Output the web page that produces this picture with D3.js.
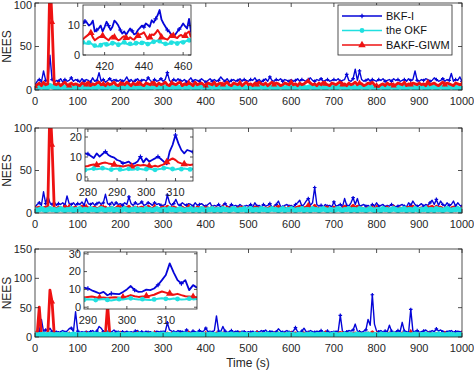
<!DOCTYPE html>
<html lang="en">
<head>
<meta charset="UTF-8">
<title>NEES comparison</title>
<script src="https://d3js.org/d3.v7.min.js"></script>
<style>
  body { margin: 0; background: #fff; }
  svg { display: block; font-family: "Liberation Sans", Arial, sans-serif; }
  .lbl { font-size: 11px; fill: #262626; }
</style>
</head>
<body>
<div id="chart"></div>
<script>
// main traces are stored every STEP seconds, t = 0..1000
const STEP = 5;
const xTicks = [0, 100, 200, 300, 400, 500, 600, 700, 800, 900, 1000];
const seriesNames = ["BKF-I", "the OKF", "BAKF-GIWM"];

// ---- panel 1 ----
const bkf1 = [
  6, 10, 12, 9, 22, 11, 10, 40, 12, 9, 11, 10, 13, 9, 12, 10, 11, 14, 10, 12,
  11, 9, 13, 10, 12, 11, 9, 14, 10, 11, 20, 10, 12, 9, 11, 13, 10, 12, 11, 10,
  12, 10, 11, 15, 10, 12, 9, 11, 13, 10, 11, 12, 10, 14, 11, 9, 12, 10, 11, 13,
  10, 12, 20, 11, 9, 12, 10, 13, 11, 10, 12, 9, 11, 14, 10, 12, 11, 10, 13, 11,
  9, 11, 13, 10, 12, 10, 11, 15, 12, 10, 13, 9, 11, 12, 10, 11, 13, 10, 12, 11,
  10, 12, 11, 14, 10, 12, 9, 11, 13, 10, 15, 11, 10, 12, 11, 13, 10, 12, 11, 10,
  12, 10, 11, 13, 10, 12, 11, 10, 12, 14, 11, 10, 12, 11, 13, 10, 11, 12, 10, 11,
  12, 11, 13, 10, 11, 12, 18, 11, 10, 13, 24, 11, 22, 12, 10, 11, 13, 10, 12, 11,
  10, 12, 11, 13, 10, 11, 12, 10, 13, 11, 12, 10, 11, 12, 10, 13, 11, 12, 22, 11,
  10, 12, 11, 13, 12, 10, 11, 14, 12, 10, 11, 13, 10, 12, 11, 19, 10, 12, 11, 15,
  10
];
const okf1 = [
  3, 2, 3, 4, 3, 2, 3, 5, 4, 3, 2, 3, 3, 4, 2, 3, 3, 2, 4, 3,
  2, 3, 4, 3, 2, 3, 3, 4, 2, 3, 4, 3, 2, 3, 3, 4, 3, 2, 3, 4,
  3, 2, 3, 4, 3, 3, 2, 4, 3, 2, 3, 3, 4, 2, 3, 3, 4, 3, 2, 3,
  4, 3, 2, 3, 3, 4, 2, 3, 3, 4, 3, 2, 3, 4, 3, 3, 2, 3, 4, 3,
  2, 3, 3, 4, 3, 2, 3, 4, 3, 3, 2, 3, 4, 3, 2, 3, 3, 4, 3, 2,
  3, 4, 3, 2, 3, 3, 4, 3, 2, 3, 4, 3, 3, 2, 3, 4, 3, 2, 3, 3,
  4, 3, 2, 3, 4, 3, 3, 2, 3, 4, 3, 2, 3, 3, 4, 3, 2, 3, 4, 3,
  3, 2, 3, 4, 3, 3, 2, 3, 4, 3, 2, 3, 3, 4, 3, 2, 3, 4, 3, 3,
  2, 3, 4, 3, 2, 3, 3, 4, 3, 2, 3, 4, 3, 3, 2, 3, 4, 3, 2, 3,
  3, 4, 3, 2, 3, 3, 4, 3, 2, 3, 4, 3, 3, 2, 3, 4, 3, 3, 2, 3,
  3
];
const bakf1 = [
  4, 6, 8, 5, 9, 6, 7, 130, 78, 7, 6, 8, 5, 7, 9, 6, 5, 8, 6, 7,
  6, 5, 8, 7, 6, 9, 5, 7, 6, 8, 9, 6, 7, 5, 8, 6, 7, 9, 6, 5,
  7, 8, 6, 9, 7, 5, 8, 6, 7, 9, 6, 5, 8, 7, 6, 9, 7, 5, 8, 6,
  7, 9, 6, 5, 8, 7, 6, 8, 9, 5, 7, 6, 8, 7, 5, 9, 6, 7, 8, 6,
  5, 8, 7, 6, 9, 5, 7, 8, 6, 7, 9, 6, 5, 8, 7, 6, 8, 5, 7, 9,
  6, 7, 5, 8, 6, 9, 7, 6, 8, 5, 7, 9, 6, 8, 7, 5, 6, 8, 7, 6,
  9, 6, 7, 5, 8, 6, 7, 9, 10, 8, 6, 7, 5, 8, 6, 9, 7, 6, 5, 8,
  7, 6, 8, 9, 6, 7, 5, 8, 6, 7, 9, 6, 8, 7, 5, 6, 8, 7, 9, 6,
  5, 4, 6, 7, 5, 8, 6, 7, 5, 6, 8, 7, 6, 9, 5, 7, 6, 8, 7, 6,
  8, 6, 7, 5, 9, 6, 7, 8, 6, 5, 7, 9, 6, 8, 7, 6, 5, 8, 7, 6,
  7
];

// ---- panel 2 ----
const bkf2 = [
  7, 10, 12, 9, 25, 11, 20, 12, 10, 13, 9, 11, 10, 12, 9, 20, 11, 10, 12, 9,
  11, 10, 13, 9, 17, 11, 10, 12, 9, 11, 13, 10, 12, 22, 11, 10, 13, 9, 12, 10,
  11, 9, 12, 10, 19, 11, 9, 12, 10, 11, 13, 9, 10, 12, 11, 9, 12, 10, 11, 9,
  9, 10, 21, 12, 9, 11, 16, 10, 9, 12, 10, 9, 11, 10, 8, 12, 9, 10, 11, 9,
  8, 10, 12, 7, 9, 8, 10, 7, 9, 11, 8, 7, 10, 8, 9, 7, 10, 8, 7, 9,
  8, 10, 7, 12, 8, 9, 7, 10, 8, 9, 11, 7, 8, 10, 14, 8, 7, 9, 10, 8,
  9, 7, 10, 12, 15, 8, 10, 14, 17, 9, 12, 30, 10, 8, 9, 7, 10, 8, 9, 7,
  13, 8, 9, 10, 7, 17, 9, 8, 12, 18, 10, 17, 8, 9, 10, 8, 9, 7, 10, 8,
  12, 8, 9, 10, 7, 9, 8, 10, 9, 7, 8, 9, 10, 8, 7, 12, 9, 14, 10, 8,
  9, 11, 8, 10, 9, 12, 15, 10, 16, 9, 14, 10, 8, 12, 9, 10, 14, 8, 12, 9,
  8
];
const okf2 = [
  4, 3, 4, 5, 4, 3, 4, 5, 4, 4, 3, 4, 5, 4, 3, 4, 4, 5, 3, 4,
  4, 5, 3, 4, 4, 3, 5, 4, 4, 3, 4, 5, 4, 3, 4, 4, 5, 3, 4, 4,
  3, 4, 5, 4, 3, 4, 4, 5, 3, 4, 4, 3, 5, 4, 4, 3, 4, 5, 4, 3,
  4, 4, 3, 5, 4, 4, 3, 4, 5, 4, 3, 4, 4, 5, 3, 4, 4, 3, 5, 4,
  3, 4, 4, 5, 3, 4, 4, 3, 5, 4, 4, 3, 4, 5, 4, 3, 4, 4, 5, 3,
  4, 5, 3, 4, 4, 3, 5, 4, 4, 3, 4, 5, 4, 4, 3, 4, 5, 3, 4, 4,
  5, 4, 3, 4, 4, 5, 3, 4, 4, 3, 5, 4, 4, 3, 4, 5, 4, 3, 4, 4,
  3, 4, 5, 4, 3, 4, 4, 5, 3, 4, 4, 3, 5, 4, 4, 3, 4, 5, 4, 3,
  4, 4, 3, 5, 4, 4, 3, 4, 5, 4, 3, 4, 4, 5, 3, 4, 4, 3, 5, 4,
  3, 4, 4, 5, 3, 4, 4, 3, 5, 4, 4, 3, 4, 5, 4, 3, 4, 4, 5, 3,
  4
];
const bakf2 = [
  5, 6, 7, 5, 6, 7, 6, 130, 80, 6, 5, 7, 6, 5, 8, 6, 7, 5, 6, 7,
  5, 6, 8, 5, 7, 6, 5, 6, 7, 5, 6, 8, 6, 7, 5, 6, 7, 5, 6, 8,
  6, 5, 7, 6, 8, 5, 6, 7, 5, 6, 7, 6, 5, 8, 6, 5, 7, 6, 5, 6,
  7, 5, 8, 6, 5, 7, 6, 5, 6, 7, 5, 6, 7, 5, 6, 5, 7, 6, 5, 6,
  5, 6, 5, 7, 5, 6, 5, 4, 6, 5, 7, 5, 6, 4, 5, 6, 5, 7, 5, 4,
  6, 5, 4, 7, 5, 6, 4, 5, 6, 5, 7, 4, 5, 6, 8, 5, 4, 6, 5, 7,
  5, 4, 6, 7, 8, 5, 6, 7, 9, 5, 6, 9, 6, 5, 4, 6, 5, 7, 4, 5,
  7, 5, 6, 5, 4, 8, 6, 5, 7, 9, 6, 8, 5, 6, 4, 5, 6, 5, 7, 4,
  6, 5, 4, 6, 5, 7, 4, 5, 6, 4, 5, 6, 5, 4, 6, 7, 5, 8, 6, 4,
  5, 6, 4, 5, 6, 7, 8, 5, 8, 6, 7, 5, 4, 6, 5, 6, 7, 5, 6, 5,
  5
];

// ---- panel 3 ----
const bkf3 = [
  6, 8, 10, 30, 9, 12, 10, 15, 9, 8, 10, 7, 9, 11, 8, 10, 14, 15, 9, 43,
  10, 8, 9, 7, 10, 8, 9, 11, 8, 10, 18, 15, 9, 8, 10, 7, 9, 12, 8, 10,
  7, 9, 8, 10, 7, 9, 8, 10, 11, 8, 9, 7, 10, 8, 9, 7, 8, 10, 9, 8,
  10, 9, 24, 12, 10, 9, 8, 11, 9, 10, 8, 12, 9, 8, 10, 9, 8, 11, 9, 10,
  15, 9, 10, 8, 11, 36, 10, 9, 18, 10, 8, 9, 11, 8, 10, 9, 8, 10, 9, 8,
  9, 8, 10, 7, 9, 8, 11, 9, 12, 8, 9, 10, 8, 9, 14, 10, 8, 9, 11, 8,
  9, 10, 16, 9, 8, 10, 15, 9, 8, 11, 9, 8, 10, 9, 11, 8, 9, 10, 8, 9,
  8, 10, 9, 37, 10, 8, 9, 11, 10, 12, 22, 10, 9, 8, 10, 12, 30, 20, 72, 22,
  10, 9, 11, 8, 10, 9, 20, 10, 8, 9, 11, 9, 25, 10, 9, 8, 47, 10, 9, 11,
  8, 9, 10, 12, 9, 8, 11, 9, 14, 10, 12, 9, 8, 10, 9, 11, 8, 9, 10, 9,
  8
];
const okf3 = [
  4, 3, 4, 4, 5, 3, 4, 5, 4, 3, 4, 4, 3, 5, 4, 4, 3, 4, 5, 4,
  3, 4, 4, 5, 3, 4, 4, 3, 5, 4, 4, 3, 4, 4, 5, 3, 4, 4, 3, 5,
  4, 4, 3, 4, 5, 4, 3, 4, 4, 5, 3, 4, 4, 3, 4, 5, 4, 3, 4, 4,
  5, 3, 4, 4, 3, 5, 4, 4, 3, 4, 5, 4, 4, 3, 4, 4, 5, 3, 4, 4,
  3, 4, 5, 4, 4, 3, 4, 5, 4, 3, 4, 4, 5, 3, 4, 4, 3, 5, 4, 4,
  4, 3, 4, 5, 4, 4, 3, 4, 4, 5, 3, 4, 4, 3, 5, 4, 4, 3, 4, 5,
  4, 4, 3, 4, 5, 4, 3, 4, 4, 5, 4, 3, 4, 4, 3, 5, 4, 4, 3, 4,
  5, 4, 3, 4, 4, 5, 3, 4, 4, 3, 4, 5, 4, 3, 4, 4, 5, 4, 3, 4,
  4, 3, 5, 4, 4, 3, 4, 4, 5, 3, 4, 4, 3, 5, 4, 4, 3, 4, 5, 4,
  3, 4, 4, 5, 4, 3, 4, 4, 3, 5, 4, 4, 3, 4, 5, 4, 4, 3, 4, 4,
  4
];
const bakf3 = [
  5, 4, 51, 5, 6, 4, 5, 80, 60, 5, 4, 6, 5, 4, 5, 6, 4, 5, 6, 5,
  4, 5, 6, 4, 5, 6, 4, 5, 5, 4, 6, 5, 4, 5, 55, 6, 5, 4, 5, 6,
  5, 4, 6, 5, 4, 5, 6, 4, 5, 6, 5, 4, 5, 6, 4, 5, 6, 5, 4, 5,
  6, 5, 7, 5, 4, 6, 5, 4, 5, 6, 4, 5, 6, 5, 4, 6, 5, 4, 5, 6,
  5, 4, 6, 5, 4, 7, 5, 6, 4, 5, 6, 5, 4, 5, 6, 4, 5, 6, 5, 4,
  6, 5, 4, 5, 6, 4, 5, 6, 5, 4, 6, 5, 4, 5, 7, 5, 4, 6, 5, 4,
  5, 6, 7, 5, 4, 6, 7, 5, 4, 6, 5, 4, 5, 6, 5, 4, 6, 5, 4, 5,
  4, 5, 6, 8, 5, 4, 6, 5, 4, 6, 7, 5, 4, 5, 6, 5, 7, 6, 9, 6,
  5, 4, 6, 5, 4, 5, 7, 5, 4, 6, 5, 4, 7, 5, 4, 5, 8, 5, 4, 6,
  5, 4, 6, 5, 4, 6, 5, 4, 6, 5, 6, 4, 5, 6, 4, 5, 6, 4, 5, 6,
  5
];

// ---- inset data, one value per second ----
const zoom1Start = 409;
const zoomBkf1 = [10.5, 11.5, 11, 10, 10.5, 11.7, 8, 8.5, 9, 10, 8, 9.5, 11.3, 10, 8.5, 9.6, 11.7, 11, 10, 8.5,
  7.3, 8, 6.9, 8, 9, 8.2, 7, 7.3, 8.5, 9.2, 10, 9.5, 10.7, 10.2, 9.6, 11.8, 11, 12.3, 13.5, 15.3,
  12, 10.7, 9.6, 8.5, 7.9, 6.8, 6.2, 7, 7.9, 8.8, 9.6, 10.7, 9.8, 9, 12.3, 7.9];
const zoomOkf1 = [4.3, 4, 3.8, 4.2, 4, 3.5, 3.2, 3, 2.9, 3.3, 3.8, 4, 3.6, 3.4, 3.8, 4, 4.2, 3.8, 3.5, 3.7,
  4, 4.3, 3.9, 3.6, 3.8, 3.5, 3.8, 4, 4.2, 3.9, 4.1, 4.4, 4, 3.7, 3.9, 4.3, 4.5, 4.6, 5, 4.7,
  4.2, 4, 3.8, 3.6, 3.9, 4.2, 4.4, 4.1, 3.9, 4.2, 4.5, 4.3, 4.6, 4.9, 5, 4.8];
const zoomBakf1 = [5.3, 6, 6.5, 7, 7.5, 6, 5, 5.5, 6, 6.3, 6.5, 6, 5.5, 5, 5.8, 6.5, 6, 5.5, 5, 5.3,
  6, 6.4, 5.8, 5.5, 6, 5.5, 5.2, 6, 6.5, 7, 7.2, 7.7, 6.5, 5.5, 6, 7, 6.8, 7.5, 8.5, 7.5,
  6, 5.8, 5.5, 5.2, 6, 7, 6.5, 6, 5.8, 6.5, 6.8, 6.2, 6.5, 7.5, 8, 6];

const zoom2Start = 279;
const zoomBkf2 = [11.8, 11.5, 10.5, 9.5, 11.8, 10.2, 11.5, 12.7, 11, 10.2, 9.7, 8.5, 8, 6.8, 7.2, 7.7, 6.3, 6.8, 7.7,
  10.2, 7.3, 9.3, 7.7, 8.5, 9.3, 10.2, 9, 7.7, 6.3, 12.7, 16, 21, 16.8, 13.5, 11.8, 13.5, 13, 12.5];
const zoomOkf2 = [3.5, 3.8, 4, 4.2, 3.9, 4.1, 4.4, 4.2, 3.9, 3.7, 4, 4.2, 3.8, 3.5, 3.9, 4.1, 3.6, 3.8, 4.2,
  4, 3.7, 3.9, 4.2, 3.8, 3.6, 3.9, 4.1, 4.4, 4.6, 4.3, 4, 3.8, 4.1, 3.9, 4.2, 4, 3.8, 4.1];
const zoomBakf2 = [5.2, 5.5, 6, 6.3, 6, 6.5, 7, 7.2, 6.8, 6.5, 6.2, 5.8, 5.5, 5.2, 5.6, 5.9, 5.2, 5.5, 6,
  5.8, 6, 5.7, 5.5, 5.2, 5.6, 5.2, 5.8, 6.3, 7.5, 8.5, 9.3, 8.5, 7.3, 6.8, 6.5, 6.2, 6, 6.2];

const zoom3Start = 289;
const zoomBkf3 = [11, 10.5, 9.5, 8.6, 7.7, 8.6, 6.7, 7.7, 7.5, 7.3, 8.6, 10, 11.9, 9.6, 8.6,
  8.8, 9.9, 9.6, 10.5, 12.5, 15.2, 18.1, 24.6, 19.6, 15.2, 13.3, 15.2, 9.6, 12.4, 11];
const zoomOkf3 = [4.2, 4.5, 4.3, 4, 4.4, 4.6, 4.1, 3.8, 4.2, 4.5, 4.3, 4.7, 5, 4.6, 4.3,
  4.5, 4.2, 4, 4.4, 4.8, 5, 4.7, 4.5, 4.9, 4.6, 4.3, 4.5, 4.8, 4.4, 4.6];
const zoomBakf3 = [5.5, 5.8, 6, 5.6, 5.3, 5.5, 5.2, 5.4, 5.6, 5.3, 5.5, 6, 6.8, 6.2, 5.8,
  6, 6.2, 6.5, 7, 8, 8.8, 8.2, 7.6, 7, 7.5, 6.8, 6.2, 6, 5.8, 5.6];

// ---- styling / layout ----
const W = 474, H = 371;
const axisColor = "#262626";
const colors = ["#0505d8", "#20e0e0", "#ee1212"];
const left = 35, right = 462;
// line widths in the main panels / insets, per series
const mainWidth = [1.4, 2, 2.8];
const insetWidth = [1.8, 2, 2];

const panels = [
  { top: 3, bottom: 90, yMax: 100, yTicks: [0, 50, 100], series: [bkf1, okf1, bakf1], order: [0, 1, 2],
    inset: { x0: 83, x1: 191, y0: 5, y1: 55, xDom: [409, 464], yDom: [0, 17], xTicks: [420, 440, 460], yTicks: [0, 10],
             start: zoom1Start, series: [zoomBkf1, zoomOkf1, zoomBakf1] } },
  { top: 128, bottom: 213, yMax: 100, yTicks: [0, 50, 100], series: [bkf2, okf2, bakf2], order: [0, 2, 1],
    inset: { x0: 85, x1: 193, y0: 129, y1: 181, xDom: [279, 316], yDom: [-2, 24], xTicks: [280, 290, 300, 310], yTicks: [0, 10, 20],
             start: zoom2Start, series: [zoomBkf2, zoomOkf2, zoomBakf2] } },
  { top: 249, bottom: 337, yMax: 150, yTicks: [0, 50, 100, 150], series: [bkf3, okf3, bakf3], order: [0, 2, 1],
    inset: { x0: 84, x1: 197, y0: 252, y1: 309, xDom: [289, 318], yDom: [-1, 31], xTicks: [290, 300, 310], yTicks: [0, 10, 20, 30],
             start: zoom3Start, series: [zoomBkf3, zoomOkf3, zoomBakf3] } }
];

const svg = d3.select("#chart").append("svg")
  .attr("width", W)
  .attr("height", H);

const defs = svg.append("defs");
let clipId = 0;

// MATLAB style box with inward ticks on all four sides
function drawBox(g, x, y, xt, yt, x0, x1, y0, y1, tickLen) {
  g.append("rect")
    .attr("x", x0).attr("y", y0)
    .attr("width", x1 - x0).attr("height", y1 - y0)
    .attr("fill", "none").attr("stroke", axisColor).attr("stroke-width", 0.8);
  xt.forEach(v => {
    const px = x(v);
    g.append("line").attr("x1", px).attr("x2", px).attr("y1", y1).attr("y2", y1 - tickLen)
      .attr("stroke", axisColor).attr("stroke-width", 0.8);
    g.append("line").attr("x1", px).attr("x2", px).attr("y1", y0).attr("y2", y0 + tickLen)
      .attr("stroke", axisColor).attr("stroke-width", 0.8);
    g.append("text").attr("class", "lbl").attr("x", px).attr("y", y1 + 15)
      .attr("text-anchor", "middle").text(v);
  });
  yt.forEach(v => {
    const py = y(v);
    g.append("line").attr("x1", x0).attr("x2", x0 + tickLen).attr("y1", py).attr("y2", py)
      .attr("stroke", axisColor).attr("stroke-width", 0.8);
    g.append("line").attr("x1", x1).attr("x2", x1 - tickLen).attr("y1", py).attr("y2", py)
      .attr("stroke", axisColor).attr("stroke-width", 0.8);
    g.append("text").attr("class", "lbl").attr("x", x0 - 3).attr("y", Math.max(py, 5))
      .attr("dy", "0.35em").attr("text-anchor", "end").text(v);
  });
}

function marker(g, k, px, py, scale) {
  if (k === 0) {
    g.append("path")
      .attr("d", `M${px - 2 * scale},${py}h${4 * scale}M${px},${py - 2 * scale}v${4 * scale}`)
      .attr("stroke", colors[0]).attr("stroke-width", 1.2);
  } else if (k === 1) {
    g.append("circle").attr("cx", px).attr("cy", py).attr("r", 2.2 * scale)
      .attr("fill", colors[1]);
  } else {
    g.append("path")
      .attr("d", d3.symbol(d3.symbolTriangle, 20 * scale * scale)())
      .attr("transform", `translate(${px},${py})`)
      .attr("fill", colors[2]);
  }
}

function drawSeries(g, x, y, values, t0, dt, k, lw, markEvery, markOffset, mScale) {
  const line = d3.line()
    .x((d, i) => x(t0 + i * dt))
    .y(d => y(d));
  g.append("path")
    .datum(values)
    .attr("d", line)
    .attr("fill", "none")
    .attr("stroke", colors[k])
    .attr("stroke-width", lw)
    .attr("stroke-linejoin", "round");
  values.forEach((v, i) => {
    if ((i - markOffset) % markEvery === 0 && i >= markOffset) {
      marker(g, k, x(t0 + i * dt), y(v), mScale);
    }
  });
}

function clipped(x0, y0, w, h) {
  const id = "clip" + (clipId++);
  defs.append("clipPath").attr("id", id)
    .append("rect").attr("x", x0).attr("y", y0).attr("width", w).attr("height", h);
  return svg.append("g").attr("clip-path", `url(#${id})`);
}

panels.forEach(p => {
  const x = d3.scaleLinear().domain([0, 1000]).range([left, right]);
  const y = d3.scaleLinear().domain([0, p.yMax]).range([p.bottom, p.top]);

  const plot = clipped(left, p.top, right - left, p.bottom - p.top);
  const mainMarks = [{ every: 3, off: 2 }, { every: 1, off: 0 }, { every: 8, off: 0 }];
  p.order.forEach(k => {
    drawSeries(plot, x, y, p.series[k], 0, STEP, k, mainWidth[k], mainMarks[k].every, mainMarks[k].off, k === 1 ? 1.2 : 0.9);
  });

  drawBox(svg.append("g"), x, y, xTicks, p.yTicks, left, right, p.top, p.bottom, 4);

  svg.append("text")
    .attr("transform", `translate(11,${(p.top + p.bottom) / 2}) rotate(-90)`)
    .attr("text-anchor", "middle")
    .attr("font-size", 12)
    .attr("fill", axisColor)
    .text("NEES");

  // zoomed inset
  const ins = p.inset;
  const xi = d3.scaleLinear().domain(ins.xDom).range([ins.x0, ins.x1]);
  const yi = d3.scaleLinear().domain(ins.yDom).range([ins.y1, ins.y0]);
  svg.append("rect")
    .attr("x", ins.x0).attr("y", ins.y0)
    .attr("width", ins.x1 - ins.x0).attr("height", ins.y1 - ins.y0)
    .attr("fill", "#fff");
  const ig = clipped(ins.x0, ins.y0, ins.x1 - ins.x0, ins.y1 - ins.y0);
  const insetMarks = [{ every: 6, off: 1 }, { every: 3, off: 0 }, { every: 6, off: 4 }];
  p.order.forEach(k => {
    drawSeries(ig, xi, yi, ins.series[k], ins.start, 1, k, insetWidth[k], insetMarks[k].every, insetMarks[k].off, 1.1);
  });
  drawBox(svg.append("g"), xi, yi, ins.xTicks, ins.yTicks, ins.x0, ins.x1, ins.y0, ins.y1, 3);
});

svg.append("text")
  .attr("x", 248).attr("y", 367)
  .attr("text-anchor", "middle")
  .attr("font-size", 12)
  .attr("fill", axisColor)
  .text("Time (s)");

// legend
const lg = svg.append("g");
lg.append("rect")
  .attr("x", 338).attr("y", 5).attr("width", 114).attr("height", 50)
  .attr("fill", "#fff").attr("stroke", axisColor).attr("stroke-width", 0.8);
seriesNames.forEach((name, k) => {
  const ly = 16 + k * 14.5;
  lg.append("line").attr("x1", 342).attr("x2", 382).attr("y1", ly).attr("y2", ly)
    .attr("stroke", colors[k]).attr("stroke-width", 1.5);
  marker(lg, k, 362, ly, 1.1);
  lg.append("text").attr("x", 386).attr("y", ly).attr("dy", "0.35em")
    .attr("font-size", 11).attr("fill", "#111").text(name);
});
</script>
</body>
</html>
